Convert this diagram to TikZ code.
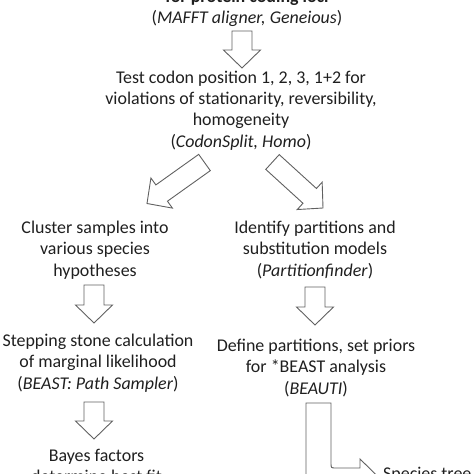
\documentclass[tikz,border=0pt]{standalone}
\usepackage{fontspec}
\setmainfont{Carlito}
\usetikzlibrary{calc}
\tikzset{fatarrow/.style={draw=black!62,line width=0.9bp,fill=white,line join=miter}}
\newcommand{\arrshaft}{10bp}
\newcommand{\arrhead}{18.5bp}
\newcommand{\arrheadlen}{18bp}
% hollow block arrow from #1 (tail) to #2 (tip)
\newcommand{\fatarrow}[2]{%
  \draw[fatarrow] ($(#1)!\arrshaft!90:(#2)$)
    -- ($(#2)!\arrheadlen!(#1)!\arrshaft!90:(#2)$)
    -- ($(#2)!\arrheadlen!(#1)!\arrhead!90:(#2)$)
    -- (#2)
    -- ($(#2)!\arrheadlen!(#1)!\arrhead!-90:(#2)$)
    -- ($(#2)!\arrheadlen!(#1)!\arrshaft!-90:(#2)$)
    -- ($(#1)!\arrshaft!-90:(#2)$) -- cycle;}
\begin{document}
\begin{tikzpicture}[x=1bp,y=-1bp,every node/.style={font=\fontsize{18}{21.5}\selectfont,text=black!88,align=center,inner sep=0pt}]
\useasboundingbox (0,0) rectangle (474,474);
\clip (0,0) rectangle (474,474);
\coordinate (a1s) at (242,31);
\coordinate (a1e) at (242,68);
\coordinate (a2s) at (204.5,162.5);
\coordinate (a2e) at (147,203.5);
\coordinate (a3s) at (272.5,162);
\coordinate (a3e) at (323,208);
\coordinate (a4s) at (94,285);
\coordinate (a4e) at (94,323);
\coordinate (a5s) at (315,287);
\coordinate (a5e) at (315,325);
\coordinate (a6s) at (94,402);
\coordinate (a6e) at (94,439);
\node (align) at (247,8) {\textbf{for protein coding loci}\\(\textit{MAFFT aligner, Geneious})};
\node (codon) at (241,110.5) {Test codon position 1, 2, 3, 1+2 for\\violations of stationarity, reversibility,\\homogeneity\\(\textit{CodonSplit, Homo})};
\node (cluster) at (95,250) {Cluster samples into\\various species\\hypotheses};
\node (partit) at (315,250) {Identify partitions and\\substitution models\\(\textit{Partitionfinder})};
\node (stone) at (98,363) {Stepping stone calculation\\of marginal likelihood\\(\textit{BEAST: Path Sampler})};
\node (beauti) at (316,368) {Define partitions, set priors\\for *BEAST analysis\\(\textit{BEAUTI})};
\node (bayes) at (96.5,466) {Bayes factors\\determine best fit};
\node[anchor=west] (species) at (383,475) {Species tree};
\fatarrow{a1s}{a1e}
\fatarrow{a2s}{a2e}
\fatarrow{a3s}{a3e}
\fatarrow{a4s}{a4e}
\fatarrow{a5s}{a5e}
\fatarrow{a6s}{a6e}
% bent arrow, BEAUTI to species tree
\draw[fatarrow] (306,403) -- (331,403) -- (331,463) .. controls (331,468) .. (336,468)
  -- (360,468) -- (360,459) -- (382,480.5) -- (360,502) -- (360,493)
  -- (326,493) .. controls (306,493) .. (306,473) -- cycle;
\end{tikzpicture}
\end{document}
